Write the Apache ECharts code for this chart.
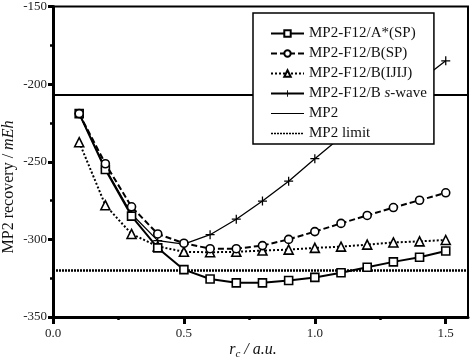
<!DOCTYPE html>
<html><head><meta charset="utf-8">
<script src="https://cdn.jsdelivr.net/npm/echarts@6/dist/echarts.min.js"></script>
<style>html,body{margin:0;padding:0;background:#fff}#c{width:474px;height:362px}</style>
</head><body><div id="c"></div>
<script>
// ---- data ----
const rc = [0.1, 0.2, 0.3, 0.4, 0.5, 0.6, 0.7, 0.8, 0.9, 1.0, 1.1, 1.2, 1.3, 1.4, 1.5];
const aStarSP = [-219, -255, -285, -305.5, -319.5, -325.5, -328, -328, -326.5, -324.5, -321.5, -318, -314.5, -311.5, -307.5];
const bSP     = [-219, -251.3, -279, -296.5, -302.5, -306, -306, -304, -300, -295, -289.7, -284.6, -279.5, -274.8, -270];
const bIJIJ   = [-237.4, -278, -296.5, -304.5, -308, -308.3, -308, -307.2, -306.6, -305.5, -304.7, -303.4, -302, -301.3, -300.4];
const bSwave  = [-219, -254.2, -283.7, -300.8, -303, -297, -287, -275.3, -262.5, -248, -234, -221, -209, -198, -185];
const mp2Value = -207;
const mp2LimitValue = -320;
const seriesNames = ['MP2-F12/A*(SP)', 'MP2-F12/B(SP)', 'MP2-F12/B(IJIJ)', 'MP2-F12/B s-wave', 'MP2', 'MP2 limit'];
const xMajorTicks = [0, 0.5, 1.0, 1.5];
const xMinorTicks = [0.25, 0.75, 1.25];
const xMin = 0, xMax = 1.585;
const yMin = -350, yMax = -150, yStep = 50;

const pairs = ys => rc.map((x, i) => [x, ys[i]]);
const hline = v => [[xMin, v], [xMax, v]];

const serif = '"Liberation Serif", "DejaVu Serif", serif';
const black = '#000';
const plusPath = 'path://M4.3,0H5.7V4.3H10V5.7H5.7V10H4.3V5.7H0V4.3H4.3Z';
// legend icons for plain horizontal lines (corner specks keep the box size)
const solidIcon = 'path://M0,0H0.01V0.01H0Z M0,3.4H33V4.6H0Z M33,8H32.99V7.99H33Z';
let dots = '';
for (let k = 0; k < 11; k++) { const x0 = k * 3; dots += 'M' + x0 + ',3.2H' + (x0 + 2) + 'V4.8H' + x0 + 'Z '; }
const dottedIcon = 'path://M0,0H0.01V0.01H0Z ' + dots + 'M33,8H32.99V7.99H33Z';

const chart = echarts.init(document.getElementById('c'), null, {renderer: 'canvas'});
chart.setOption({
  animation: false,
  backgroundColor: '#fff',
  textStyle: {fontFamily: serif},
  grid: {left: 53, right: 6, top: 5, bottom: 45, show: true, borderColor: black, borderWidth: 2, backgroundColor: 'transparent'},
  xAxis: [{
    type: 'value', min: xMin, max: xMax, position: 'bottom',
    axisLine: {show: true, onZero: false, lineStyle: {color: black, width: 3}},
    axisTick: {show: true, customValues: xMajorTicks, length: 7, lineStyle: {color: black, width: 3}},
    axisLabel: {customValues: xMajorTicks, formatter: v => v.toFixed(1), color: '#222', fontSize: 13, fontFamily: serif, margin: 10},
    splitLine: {show: false}
  }, {
    type: 'value', min: xMin, max: xMax, position: 'bottom',
    axisLine: {show: false},
    axisTick: {show: true, customValues: xMinorTicks, length: 3, lineStyle: {color: black, width: 2.5}},
    axisLabel: {show: false},
    splitLine: {show: false}
  }],
  yAxis: {
    type: 'value', min: yMin, max: yMax, interval: yStep,
    axisLine: {show: true, onZero: false, lineStyle: {color: black, width: 3}},
    axisTick: {show: true, length: 5, lineStyle: {color: black, width: 3}},
    minorTick: {show: true, splitNumber: 2, length: 3, lineStyle: {color: black, width: 2.5}},
    axisLabel: {color: '#222', fontSize: 13, fontFamily: serif, margin: 6, formatter: v => String(v)},
    splitLine: {show: false}
  },
  legend: {
    orient: 'vertical', left: 253, top: 13,
    padding: [13, 7, 3, 17], itemGap: 5, itemWidth: 33, itemHeight: 8,
    backgroundColor: '#fff', borderColor: black, borderWidth: 1.5, borderRadius: 0,
    data: [
      {name: seriesNames[0]}, {name: seriesNames[1]}, {name: seriesNames[2]}, {name: seriesNames[3]},
      {name: seriesNames[4], icon: solidIcon, itemStyle: {color: black}},
      {name: seriesNames[5], icon: dottedIcon, itemStyle: {color: black}}
    ],
    formatter: n => n === 'MP2-F12/B s-wave' ? 'MP2-F12/B {i|s}-wave' : n,
    textStyle: {fontFamily: serif, fontSize: 15, color: '#111',
      rich: {i: {fontStyle: 'italic', fontFamily: serif, fontSize: 15, color: '#111'}}}
  },
  graphic: [{
    type: 'text', x: 9, y: 187, rotation: Math.PI / 2,
    style: {text: '{n|MP2 recovery / }{i|mEh}', align: 'center', verticalAlign: 'middle',
      rich: {n: {fontFamily: serif, fontSize: 16, fill: '#111'}, i: {fontFamily: serif, fontSize: 16, fontStyle: 'italic', fill: '#111'}}}
  }, {
    type: 'text', x: 253, y: 350,
    style: {text: '{i|r}{s|c}{i| / a.u.}', align: 'center', verticalAlign: 'middle',
      rich: {i: {fontFamily: serif, fontSize: 16, fontStyle: 'italic', fill: '#111'},
             s: {fontFamily: serif, fontSize: 11, fontStyle: 'italic', fill: '#111', padding: [8, 0, 0, 0]}}}
  }],
  series: [{
    name: seriesNames[4], type: 'line', data: hline(mp2Value), symbol: 'none', z: 1,
    lineStyle: {color: black, width: 2}, itemStyle: {color: black}
  }, {
    name: seriesNames[5], type: 'line', data: hline(mp2LimitValue), symbol: 'none', z: 1,
    lineStyle: {color: black, width: 2.5, type: [2, 1]}, itemStyle: {color: black}
  }, {
    name: seriesNames[3], type: 'line', data: pairs(bSwave), symbol: plusPath, symbolSize: 9, z: 2,
    lineStyle: {color: black, width: 1.3}, itemStyle: {color: black, borderWidth: 0}
  }, {
    name: seriesNames[2], type: 'line', data: pairs(bIJIJ), symbol: 'triangle', symbolSize: 9, z: 3,
    lineStyle: {color: black, width: 2, type: [2, 2]}, itemStyle: {color: '#fff', borderColor: black, borderWidth: 1.6}
  }, {
    name: seriesNames[1], type: 'line', data: pairs(bSP), symbol: 'circle', symbolSize: 8, z: 4,
    lineStyle: {color: black, width: 2, type: [6, 3]}, itemStyle: {color: '#fff', borderColor: black, borderWidth: 1.6}
  }, {
    name: seriesNames[0], type: 'line', data: pairs(aStarSP), symbol: 'rect', symbolSize: 8, z: 3,
    lineStyle: {color: black, width: 2}, itemStyle: {color: '#fff', borderColor: black, borderWidth: 1.6}
  }]
});
</script></body></html>
